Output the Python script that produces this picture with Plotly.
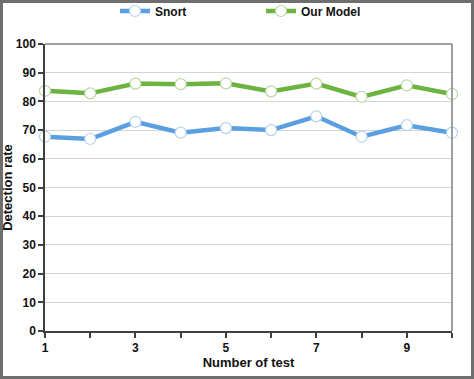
import plotly.graph_objects as go

tests = [1, 2, 3, 4, 5, 6, 7, 8, 9, 10]
snort = [67.7, 66.9, 72.9, 69.1, 70.7, 70.0, 74.8, 67.7, 71.7, 69.1]
our_model = [83.7, 82.8, 86.2, 86.0, 86.3, 83.5, 86.2, 81.6, 85.6, 82.6]
x_tick_vals = [1, 2, 3, 4, 5, 6, 7, 8, 9, 10]
x_tick_text = ["1", "", "3", "", "5", "", "7", "", "9", ""]
y_tick_vals = [0, 10, 20, 30, 40, 50, 60, 70, 80, 90, 100]

W, H = 474, 379
ML, MR, MT, MB = 45, 22, 44, 48
PW = W - ML - MR
PH = H - MT - MB

font = "Liberation Sans, Arial, sans-serif"

fig = go.Figure()
fig.add_trace(go.Scatter(
    x=tests, y=snort, name="Snort", mode="lines+markers",
    line=dict(color="#5A9FE0", width=4.5),
    marker=dict(size=11, color="white", line=dict(color="#B7D3EE", width=1.2)),
    cliponaxis=False,
))
fig.add_trace(go.Scatter(
    x=tests, y=our_model, name="Our Model", mode="lines+markers",
    line=dict(color="#6DB33F", width=4.5),
    marker=dict(size=11, color="white", line=dict(color="#BBD8A6", width=1.2)),
    cliponaxis=False,
))

def px(xp):
    return (xp - ML) / PW

def py(yp):
    return 1 - (yp - MT) / PH

shapes = [
    dict(type="line", xref="paper", yref="paper", x0=0, x1=1, y0=1, y1=1,
         line=dict(color="#808080", width=1.5)),
    dict(type="line", xref="paper", yref="paper", x0=1, x1=1, y0=0, y1=1,
         line=dict(color="#808080", width=1.5)),
    dict(type="rect", xref="paper", yref="paper",
         x0=px(1.5), x1=px(W - 1.5), y0=py(H - 1.5), y1=py(1.5),
         line=dict(color="#6E6E6E", width=3)),
]

fig.update_layout(
    width=W, height=H,
    margin=dict(l=ML, r=MR, t=MT, b=MB, autoexpand=False),
    paper_bgcolor="white", plot_bgcolor="white",
    font=dict(family=font, size=12, color="#111111"),
    showlegend=True,
    legend=dict(orientation="h", xref="container", yref="container",
                x=115 / W, xanchor="left", y=1 - 11 / H, yanchor="middle",
                font=dict(family=font, size=12, color="#111111", weight="bold"),
                entrywidth=101, entrywidthmode="pixels",
                bgcolor="rgba(0,0,0,0)", itemwidth=30),
    xaxis=dict(
        range=[1, 10], tickmode="array", tickvals=x_tick_vals, ticktext=x_tick_text,
        showgrid=False, zeroline=False, automargin=False,
        showline=True, linecolor="#404040", linewidth=1.5,
        ticks="outside", ticklen=5, tickcolor="#404040", tickwidth=1.5,
        tickfont=dict(family=font, size=12, color="#111111", weight="bold"),
        title=dict(text="Number of test", standoff=4,
                   font=dict(family=font, size=13, color="#111111", weight="bold")),
    ),
    yaxis=dict(
        range=[0, 100], tickmode="array", tickvals=y_tick_vals,
        showgrid=True, gridcolor="#D4D4D4", gridwidth=1, zeroline=False, automargin=False,
        showline=True, linecolor="#404040", linewidth=1.5,
        ticks="outside", ticklen=5, tickcolor="#404040", tickwidth=1.5,
        tickfont=dict(family=font, size=12, color="#111111", weight="bold"),
        title=dict(text="Detection rate", standoff=6,
                   font=dict(family=font, size=13, color="#111111", weight="bold")),
    ),
    shapes=shapes,
)

fig.write_html("out.html", config={"displayModeBar": False},
               post_script="document.body.style.margin='0';document.body.style.padding='0';")
